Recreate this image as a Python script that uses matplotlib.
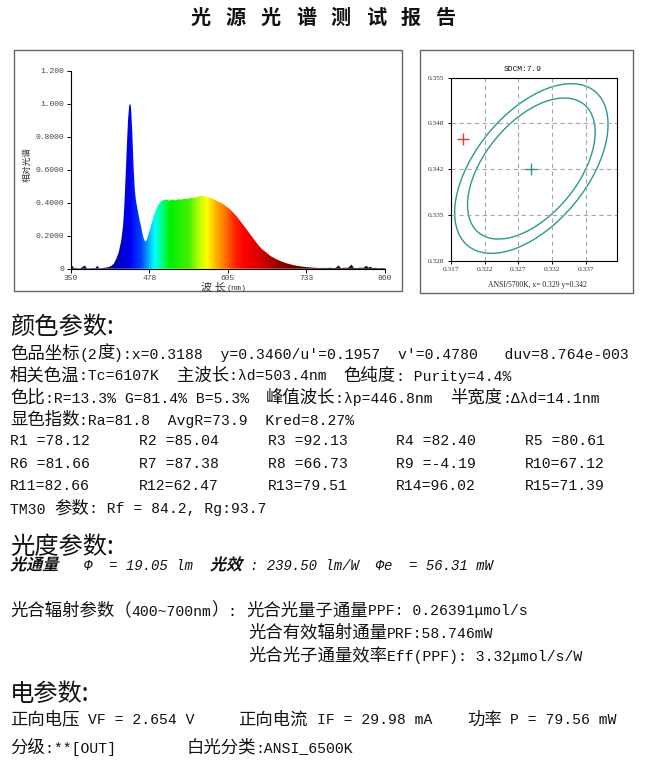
"""Light source spectrum test report (光源光谱测试报告) rebuilt with matplotlib."""

import matplotlib

matplotlib.use("Agg")
import matplotlib.pyplot as plt
import numpy as np
from matplotlib.colors import LinearSegmentedColormap, Normalize
from matplotlib.font_manager import FontProperties
from matplotlib.patches import Ellipse, PathPatch, Rectangle
from matplotlib.textpath import TextPath
from matplotlib.transforms import Affine2D

W, H, DPI = 650, 760, 100
MONO = "Liberation Mono"
SERIF = "Liberation Serif"
CJK = "Noto Sans CJK SC"

plt.rcParams["font.family"] = [MONO, CJK]

# ---- relative spectrum -------------------------------------------------------
WAVELENGTH = [
    350, 352, 355, 360, 365, 370, 373, 376, 380, 385, 390, 393, 396, 400, 405,
    410, 415, 420, 424, 428, 432, 435, 437, 439, 441, 443, 445, 446.8, 448, 450,
    452, 454, 456, 458, 460, 462, 464, 466, 468, 470, 472, 474, 476, 478, 481,
    484, 487, 490, 493, 496, 500, 505, 510, 515, 520, 525, 530, 535, 540, 545,
    550, 555, 560, 565, 570, 575, 580, 585, 590, 595, 600, 605, 610, 615, 620,
    625, 630, 635, 640, 645, 650, 655, 660, 665, 670, 675, 680, 685, 690, 695,
    700, 705, 710, 715, 720, 725, 730, 735, 740, 745, 750, 755, 760, 765, 770,
    775, 780, 785, 788, 795, 800, 806, 809, 815, 820, 825, 830, 833, 836, 840,
    845, 850, 855, 860,
]
INTENSITY = [
    0.050, 0.020, 0.005, 0.003, 0.002, 0.012, 0.020, 0.003, 0.002, 0.004,
    0.003, 0.018, 0.004, 0.003, 0.006, 0.008, 0.015, 0.030, 0.060, 0.100,
    0.170, 0.260, 0.380, 0.550, 0.730, 0.900, 0.990, 1.000, 0.970, 0.820,
    0.620, 0.480, 0.410, 0.370, 0.330, 0.290, 0.260, 0.220, 0.190, 0.170,
    0.165, 0.180, 0.205, 0.230, 0.270, 0.310, 0.345, 0.370, 0.390, 0.405,
    0.415, 0.420, 0.412, 0.420, 0.414, 0.421, 0.418, 0.425, 0.423, 0.430,
    0.428, 0.436, 0.440, 0.442, 0.435, 0.432, 0.425, 0.415, 0.405, 0.396,
    0.385, 0.370, 0.355, 0.335, 0.315, 0.290, 0.265, 0.240, 0.215, 0.190,
    0.165, 0.140, 0.120, 0.105, 0.090, 0.075, 0.065, 0.055, 0.047, 0.040,
    0.033, 0.028, 0.023, 0.019, 0.016, 0.013, 0.011, 0.009, 0.007, 0.006,
    0.005, 0.004, 0.005, 0.004, 0.006, 0.004, 0.005, 0.020, 0.004, 0.006,
    0.005, 0.025, 0.005, 0.004, 0.006, 0.005, 0.018, 0.006, 0.012, 0.004,
    0.005, 0.003, 0.004, 0.003,
]
SPEC_XTICKS = [350, 477.5, 605, 732.5, 860]
SPEC_XTICK_LABELS = ["350", "478", "605", "733", "860"]
SPEC_YTICKS = [0, 0.2, 0.4, 0.6, 0.8, 1.0, 1.2]
SPEC_YTICK_LABELS = ["0", "0.2000", "0.4000", "0.6000", "0.8000", "1.000", "1.200"]

# wavelength -> display colour of the filled spectrum
WAVE_COLOR_STOPS = [
    (350, "#101018"), (405, "#0c0c60"), (425, "#0000b8"), (445, "#0000f0"),
    (462, "#0040ff"), (474, "#00a8ff"), (485, "#00ffff"), (496, "#00ff90"),
    (510, "#00f000"), (540, "#40f000"), (558, "#c0ff00"), (570, "#ffff00"),
    (585, "#ffb000"), (600, "#ff7000"), (615, "#ff2800"), (630, "#ff0000"),
    (660, "#d00000"), (690, "#900000"), (720, "#5c0000"), (755, "#2a0000"),
    (860, "#100000"),
]

# ---- chromaticity window ----------------------------------------------------
CIE_XTICKS = [0.317, 0.322, 0.327, 0.332, 0.337]
CIE_XTICK_LABELS = ["0.317", "0.322", "0.327", "0.332", "0.337"]
CIE_YTICKS = [0.328, 0.33475, 0.3415, 0.34825, 0.355]
CIE_YTICK_LABELS = ["0.328", "0.335", "0.342", "0.348", "0.355"]
ANSI_NAME = "ANSI/5700K"
ANSI_CENTER = (0.3289, 0.3416)
ELLIPSE_WIDTHS = [0.0295, 0.0245]
ELLIPSE_HEIGHTS = [0.0164, 0.0137]
ELLIPSE_ANGLE = 50.5
SDCM = 7.9

# ---- measured parameters ------------------------------------------------------
CIE_X, CIE_Y, U_PRIME, V_PRIME, DUV = 0.3188, 0.3460, 0.1957, 0.4780, "8.764e-003"
CCT, DOMINANT_WL, PURITY = 6107, 503.4, 4.4
RATIO_R, RATIO_G, RATIO_B = 13.3, 81.4, 5.3
PEAK_WL, HALF_WIDTH = 446.8, 14.1
RA, AVG_R, KRED = 81.8, 73.9, 8.27
R_VALUES = [78.12, 85.04, 92.13, 82.40, 80.61, 81.66, 87.38, 66.73, -4.19, 67.12,
            82.66, 62.47, 79.51, 96.02, 71.39]
TM30_RF, TM30_RG = 84.2, 93.7
FLUX_LM, EFFICACY, FLUX_MW = 19.05, 239.50, 56.31
PPF, PRF, EFF_PPF = 0.26391, 58.746, 3.32
VF, IF_MA, POWER_MW = 2.654, 29.98, 79.56
GRADE, WHITE_CLASS = "**[OUT]", "ANSI_6500K"


def fx(px):
    return px / W


def fy(py):
    return 1 - py / H


def is_cjk(ch):
    return ord(ch) >= 0x2E80


def split_runs(text):
    runs = []
    for ch in text:
        kind = is_cjk(ch)
        if runs and runs[-1][0] == kind:
            runs[-1][1] += ch
        else:
            runs.append([kind, ch])
    return runs


def draw_line(fig, x_px, base_py, text, mono_pt=10.6, cjk_pt=12.5, italic=False):
    """Draw mixed CJK / monospace text with a fixed advance per glyph."""
    mono_adv = 0.6 * mono_pt * DPI / 72
    cjk_adv = cjk_pt * DPI / 72
    x = x_px
    for kind, run in split_runs(text):
        adv = cjk_adv if kind else mono_adv
        body = run.lstrip(" ")
        x += (len(run) - len(body)) * adv
        if not body:
            continue
        if kind and italic:
            prop = FontProperties(family=CJK, weight="bold")
            path = TextPath((0, 0), body, size=cjk_adv, prop=prop)
            trans = Affine2D().skew_deg(14, 0).translate(x, H - base_py)
            fig.add_artist(PathPatch(path, transform=trans, fc="#111111", ec="none"))
        elif kind:
            fig.text(fx(x), fy(base_py), body, family=CJK, size=cjk_pt,
                     va="baseline", color="#111111")
        else:
            fig.text(fx(x), fy(base_py), body, family=MONO, size=mono_pt,
                     va="baseline", color="#111111",
                     style="italic" if italic else "normal")
        x += len(body) * adv


def draw_spectrum(fig):
    ax = fig.add_axes([fx(70.7), fy(268.7), fx(385) - fx(70.7), fy(70.7) - fy(268.7)])
    cmap = LinearSegmentedColormap.from_list(
        "wave",
        [((w - 350) / 510, c) for w, c in WAVE_COLOR_STOPS],
    )
    ramp = np.linspace(350, 860, 1021)
    colors = cmap(Normalize(350, 860)(ramp))[np.newaxis, :, :]
    area = ax.fill_between(WAVELENGTH, INTENSITY, 0, facecolor="none", edgecolor="none")
    img = ax.imshow(colors, extent=[350, 860, 0, 1.2], aspect="auto",
                    origin="lower", interpolation="bilinear")
    img.set_clip_path(area.get_paths()[0], transform=ax.transData)

    ax.set_xlim(350, 860)
    ax.set_ylim(0, 1.2)
    for side in ("top", "right"):
        ax.spines[side].set_visible(False)
    for side in ("left", "bottom"):
        ax.spines[side].set_linewidth(0.8)
    ax.set_xticks(SPEC_XTICKS, SPEC_XTICK_LABELS, family=MONO, fontsize=5.8, color="#444444")
    ax.set_yticks(SPEC_YTICKS, SPEC_YTICK_LABELS, family=MONO, fontsize=5.8, color="#444444")
    ax.tick_params(direction="out", length=3, width=0.7, pad=1.5)

    fig.text(fx(27), fy(165), "相对光谱", family=CJK, size=6.3, color="#333333",
             rotation=90, ha="center", va="center")
    fig.text(fx(226), fy(287), "波 长", family=CJK, size=8, color="#333333",
             ha="right", va="center")
    fig.text(fx(227), fy(288), "(nm)", family=MONO, size=6, color="#333333",
             ha="left", va="center")


def draw_chromaticity(fig):
    left, right, top, bottom = 450.7, 617.3, 77.7, 260.7
    ax = fig.add_axes([fx(left), fy(bottom), fx(right) - fx(left), fy(top) - fy(bottom)])
    span_y = 0.355 - 0.328
    ax.set_xlim(0.317, 0.317 + span_y * (right - left) / (bottom - top))
    ax.set_ylim(0.328, 0.355)
    ax.set_xticks(CIE_XTICKS, CIE_XTICK_LABELS, family=SERIF, fontsize=5.3, color="#333333")
    ax.set_yticks(CIE_YTICKS, CIE_YTICK_LABELS, family=SERIF, fontsize=5.3, color="#333333")
    ax.tick_params(direction="out", length=2.5, width=0.7, pad=2)
    ax.grid(True, color="#a8a8a8", linestyle=(0, (4, 3)), linewidth=0.8)
    for spine in ax.spines.values():
        spine.set_linewidth(0.8)

    for w, h in zip(ELLIPSE_WIDTHS, ELLIPSE_HEIGHTS):
        ax.add_patch(Ellipse(ANSI_CENTER, w, h, angle=ELLIPSE_ANGLE, fill=False,
                             edgecolor="#2a9a8c", linewidth=1.0))
    ax.plot(*ANSI_CENTER, marker="+", ms=8, mew=1.0, color="#2a9a8c")
    ax.plot(CIE_X, CIE_Y, marker="+", ms=8, mew=1.0, color="#e23a3a")

    ax.text(0.434, 1.046, f"SDCM:{SDCM}", transform=ax.transAxes, family=MONO,
            size=5.8, ha="center", va="center", color="#111111")
    fig.text(fx(537), fy(285),
             f"{ANSI_NAME}, x= {ANSI_CENTER[0]:.3f} y={ANSI_CENTER[1]:.3f}",
             family=SERIF, size=5.5, ha="center", va="center", color="#222222")


def main():
    fig = plt.figure(figsize=(W / DPI, H / DPI), dpi=DPI)
    fig.patch.set_facecolor("white")

    for i, ch in enumerate("光源光谱测试报告"):
        fig.text(fx(201 + i * 35), fy(17), ch, family=CJK, size=14.5,
                 weight="bold", ha="center", va="center", color="#111111")

    for x0, x1, y0, y1 in [(14, 402, 50, 291), (420, 633, 50, 293)]:
        fig.add_artist(Rectangle((fx(x0), fy(y1)), fx(x1) - fx(x0), fy(y0) - fy(y1),
                                 transform=fig.transFigure, fill=False,
                                 edgecolor="#666666", linewidth=1.0))

    draw_spectrum(fig)
    draw_chromaticity(fig)

    for text, base in [("颜色参数:", 334), ("光度参数:", 554), ("电参数:", 701)]:
        fig.text(fx(10), fy(base), text, family=CJK, size=17.5, va="baseline",
                 color="#111111")

    draw_line(fig, 10, 358.5,
              f"色品坐标(2度):x={CIE_X:.4f}  y={CIE_Y:.4f}/u'={U_PRIME:.4f}  "
              f"v'={V_PRIME:.4f}   duv={DUV}")
    draw_line(fig, 10, 380.5,
              f"相关色温:Tc={CCT}K  主波长:λd={DOMINANT_WL}nm  色纯度: Purity={PURITY}%")
    draw_line(fig, 10, 403,
              f"色比:R={RATIO_R}% G={RATIO_G}% B={RATIO_B}%  峰值波长:λp={PEAK_WL}nm  "
              f"半宽度:Δλd={HALF_WIDTH}nm")
    draw_line(fig, 10, 424.5, f"显色指数:Ra={RA}  AvgR={AVG_R}  Kred={KRED}%")

    col_x = [10, 139, 268, 396, 525]
    row_base = [445, 468, 490]
    for i, value in enumerate(R_VALUES):
        draw_line(fig, col_x[i % 5], row_base[i // 5], f"R{i + 1:<2}={value:.2f}")
    draw_line(fig, 10, 513.5, f"TM30 参数: Rf = {TM30_RF}, Rg:{TM30_RG}")

    draw_line(fig, 10, 570,
              f"光通量   Φ  = {FLUX_LM:.2f} lm  光效 : {EFFICACY:.2f} lm/W  "
              f"Φe  = {FLUX_MW:.2f} mW",
              mono_pt=10.1, cjk_pt=11.6, italic=True)

    draw_line(fig, 10, 615.5, f"光合辐射参数（400~700nm）: 光合光量子通量PPF: {PPF}μmol/s")
    draw_line(fig, 248, 637.5, f"光合有效辐射通量PRF:{PRF}mW")
    draw_line(fig, 248, 660.5, f"光合光子通量效率Eff(PPF): {EFF_PPF}μmol/s/W")

    draw_line(fig, 10, 724.5,
              f"正向电压 VF = {VF} V     正向电流 IF = {IF_MA} mA    功率 P = {POWER_MW} mW")
    draw_line(fig, 10, 752.5, f"分级:{GRADE}        白光分类:{WHITE_CLASS}")

    fig.savefig("out.png", dpi=DPI, facecolor="white")
    plt.close(fig)


if __name__ == "__main__":
    main()
